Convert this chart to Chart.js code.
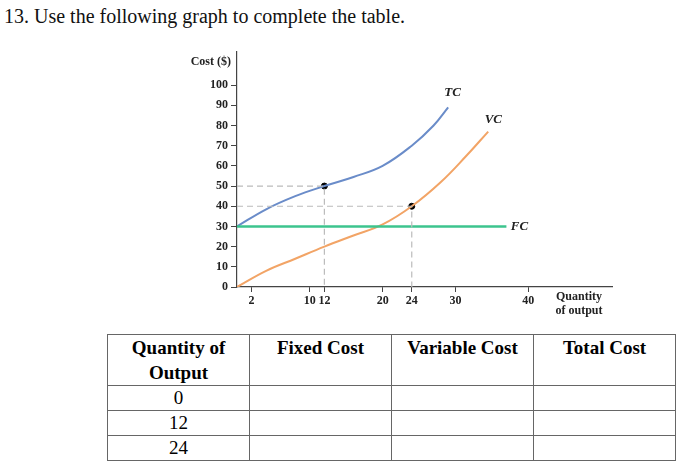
<!DOCTYPE html>
<html>
<head>
<meta charset="utf-8">
<script src="https://cdn.jsdelivr.net/npm/chart.js@4"></script>
<style>
  body { margin: 0; background: #fff; font-family: "Liberation Serif", serif; }
  #title { position: absolute; left: 4px; top: 5px; font-size: 20px; color: #111; }
  #wrap { position: absolute; left: 0; top: 0; width: 700px; height: 330px; }
  table { position: absolute; left: 107px; top: 334px; width: 569px; border-collapse: collapse; font-family: "Liberation Serif", serif; font-size: 19px; }
  td, th { border: 1.5px solid #666; text-align: center; padding: 0; height: 24px; font-family: "Liberation Serif", serif; }
  th { font-weight: bold; vertical-align: top; height: 49px; line-height: 25px; width: 25%; }
</style>
</head>
<body>
<div id="title">13. Use the following graph to complete the table.</div>
<div id="wrap"><canvas id="costChart" width="700" height="330"></canvas></div>
<table>
  <tr><th>Quantity of<br>Output</th><th>Fixed Cost</th><th>Variable Cost</th><th>Total Cost</th></tr>
  <tr><td>0</td><td></td><td></td><td></td></tr>
  <tr><td>12</td><td></td><td></td><td></td></tr>
  <tr><td>24</td><td></td><td></td><td></td></tr>
</table>
<script>
const qtyTicks = [2, 10, 12, 20, 24, 30, 40];
const costTicks = [0, 10, 20, 30, 40, 50, 60, 70, 80, 90, 100];
const tcPoints = [[0,30],[4,38.5],[8,45],[12,50],[16,54.5],[20,60],[24,70],[27,80],[29,89]];
const vcPoints = [[0,0],[4,8],[8,14],[12,20],[16,25.5],[20,31],[24,40],[28,52],[31.5,65],[34.5,77]];
const fcPoints = [[0,30],[37,30]];
const markedPoints = [[12,50],[24,40]];

const toXY = arr => arr.map(p => ({x: p[0], y: p[1]}));
const dashStyle = {borderColor: '#bbb', borderWidth: 1.2, borderDash: [6, 4], pointRadius: 0, fill: false};

const labelPlugin = {
  id: 'curveLabels',
  afterDraw(chart) {
    const ctx = chart.ctx, xs = chart.scales.x, ys = chart.scales.y;
    ctx.save();
    ctx.fillStyle = '#222';
    ctx.font = 'italic bold 13px "Liberation Serif"';
    ctx.textAlign = 'center';
    ctx.fillText('TC', xs.getPixelForValue(29.6), ys.getPixelForValue(94.5));
    ctx.fillText('VC', xs.getPixelForValue(35.2), ys.getPixelForValue(81));
    ctx.textAlign = 'left';
    ctx.textBaseline = 'middle';
    ctx.fillText('FC', xs.getPixelForValue(37.6), ys.getPixelForValue(30));
    ctx.font = 'bold 12px "Liberation Serif"';
    ctx.textAlign = 'right';
    ctx.fillText('Cost ($)', 231, 62);
    ctx.textAlign = 'center';
    ctx.fillText('Quantity', 579, 297);
    ctx.fillText('of output', 579, 311);
    ctx.restore();
  }
};

new Chart(document.getElementById('costChart'), {
  type: 'line',
  data: {
    datasets: [
      Object.assign({data: toXY([[0,50],[12,50],[12,0]])}, dashStyle),
      Object.assign({data: toXY([[0,40],[24,40],[24,0]])}, dashStyle),
      {data: toXY(fcPoints), borderColor: '#3cc48e', borderWidth: 2.5, pointRadius: 0},
      {data: toXY(tcPoints), borderColor: '#6a8cc9', borderWidth: 2, pointRadius: 0, tension: 0.4},
      {data: toXY(vcPoints), borderColor: '#f2a466', borderWidth: 2, pointRadius: 0, tension: 0.4},
      {data: toXY(markedPoints), showLine: false, pointRadius: 3, pointBackgroundColor: '#000', pointBorderColor: '#000'}
    ]
  },
  options: {
    responsive: false,
    animation: false,
    layout: {padding: {left: 0, top: 52, right: 88, bottom: 0}},
    plugins: {legend: {display: false}, tooltip: {enabled: false}},
    scales: {
      x: {
        type: 'linear', min: 0, max: 51.5,
        afterBuildTicks: s => { s.ticks = qtyTicks.map(v => ({value: v})); },
        afterFit: s => { s.height = 43; },
        border: {display: true, color: '#444', width: 1.2},
        grid: {drawOnChartArea: false, drawTicks: true, tickLength: 5, color: '#444'},
        ticks: {color: '#222', font: {family: 'Liberation Serif', weight: 'bold', size: 12}, padding: 2, maxRotation: 0}
      },
      y: {
        type: 'linear', min: 0, max: 116.4,
        afterBuildTicks: s => { s.ticks = costTicks.map(v => ({value: v})); },
        afterFit: s => { s.width = 237; },
        border: {display: true, color: '#444', width: 1.2},
        grid: {drawOnChartArea: false, drawTicks: true, tickLength: 6, color: '#444'},
        ticks: {color: '#222', font: {family: 'Liberation Serif', weight: 'bold', size: 12}, padding: 3}
      }
    }
  },
  plugins: [labelPlugin]
});
</script>
</body>
</html>
